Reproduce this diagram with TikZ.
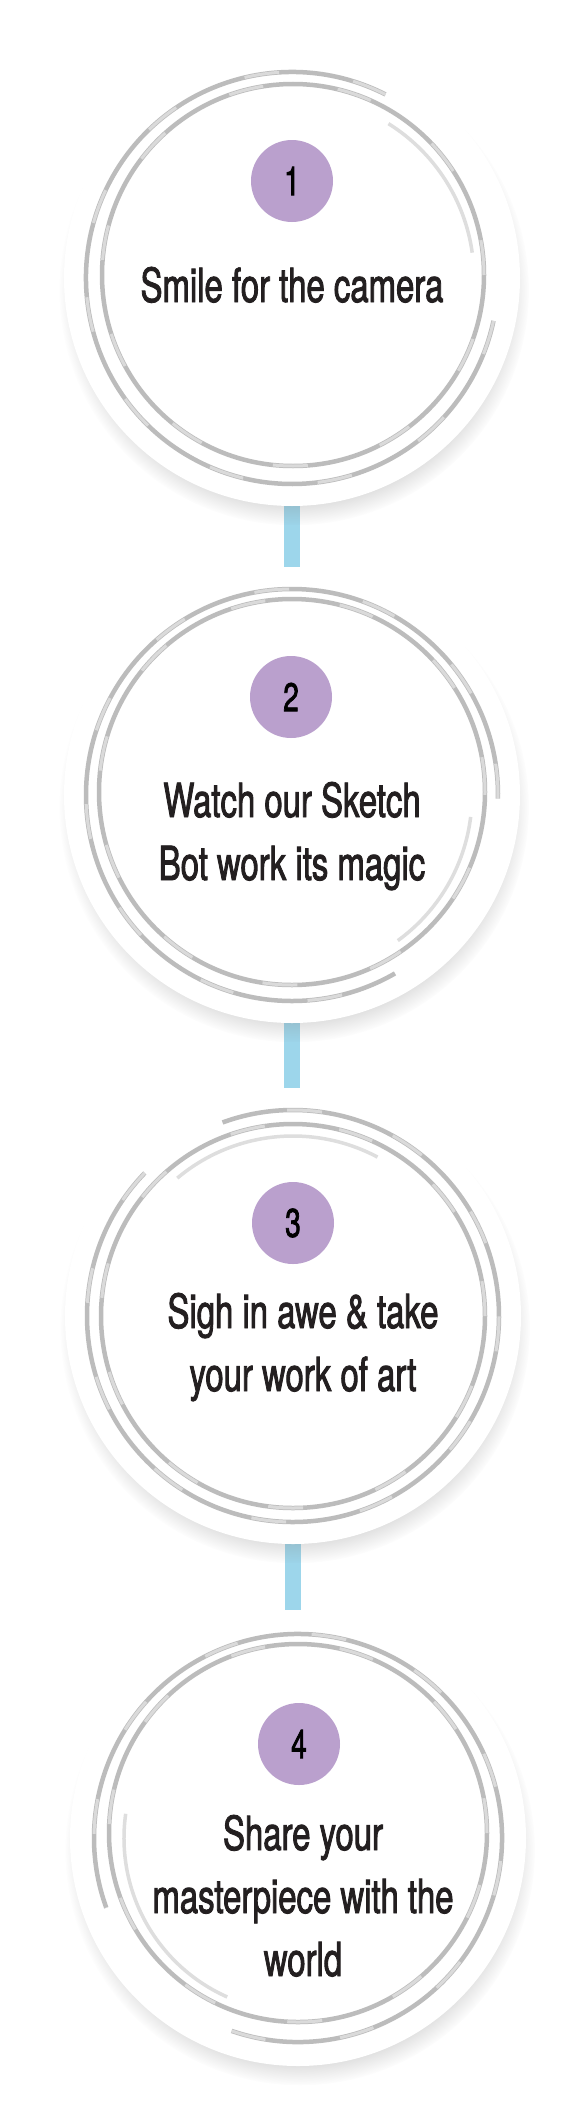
\documentclass[tikz,border=0pt]{standalone}
\usepackage{fontspec}
\setmainfont{TeX Gyre Heros}[FakeStretch=0.70, FakeBold=1.8]
\usetikzlibrary{shadows, backgrounds, positioning}
\definecolor{steppurple}{RGB}{186,160,205}
\definecolor{barblue}{RGB}{157,214,235}
\definecolor{ringgray}{RGB}{188,188,188}
\definecolor{ringlight}{RGB}{222,222,222}
\definecolor{textdark}{RGB}{35,31,32}
\tikzstyle{disc} = [circle, fill=white, minimum size=456pt, inner sep=0pt, circular drop shadow={shadow xshift=2pt, shadow yshift=-12pt, shadow scale=1.03, opacity=0.4}]
\tikzstyle{num} = [circle, fill=steppurple, minimum size=82pt, inner sep=0pt, text=black, font=\fontsize{40}{40}\selectfont]
\tikzstyle{steptext} = [align=center, anchor=base, inner sep=0pt, text=textdark, font=\fontsize{47}{63}\selectfont]
\tikzstyle{bar} = [draw=barblue, line width=16pt]
\tikzstyle{ring} = [draw=ringgray, line width=4.5pt, postaction={draw=white, opacity=0.45, line width=3pt, dash pattern=on 35pt off 75pt}]
\tikzstyle{ringlt} = [draw=ringlight, line width=3.5pt]

\begin{document}
\begin{tikzpicture}[node distance=517pt]
    \begin{pgfonlayer}{background}
        \fill[white] (0,0) rectangle (585pt,-2101pt);
    \end{pgfonlayer}
    \useasboundingbox (0,0) rectangle (585pt,-2101pt);

    % Place nodes
    \node [disc] (c1) at (292pt,-278pt) {};
    \node [disc, below of=c1] (c2) {};
    \node [disc, below of=c2, node distance=521pt, xshift=1pt] (c3) {};
    \node [disc, below of=c3, node distance=522pt, xshift=5pt] (c4) {};

    % Rings
    \draw [ring] ([shift={(1pt,3pt)}]c1.center) circle [radius=191pt];
    \draw [ring] ([shift={(63:206pt)}]c1.center) arc [start angle=63, end angle=348, radius=206pt];
    \draw [ringlt] ([shift={(58:182pt)}]c1.center) arc [start angle=58, end angle=8, radius=182pt];

    \draw [ring] ([shift={(0pt,3pt)}]c2.center) circle [radius=193pt];
    \draw [ring] ([shift={(-1:206pt)}]c2.center) arc [start angle=-1, end angle=300, radius=206pt];
    \draw [ringlt] ([shift={(-7:180pt)}]c2.center) arc [start angle=-7, end angle=-54, radius=180pt];

    \draw [ring] (c3.center) circle [radius=192pt];
    \draw [ring] ([shift={(136:206pt)}]c3.center) arc [start angle=136, end angle=470, radius=206pt];
    \draw [ringlt] ([shift={(130:180pt)}]c3.center) arc [start angle=130, end angle=62, radius=180pt];

    \draw [ring] ([shift={(0pt,5pt)}]c4.center) circle [radius=189pt];
    \draw [ring] ([shift={(251:204pt)}]c4.center) arc [start angle=251, end angle=560, radius=204pt];
    \draw [ringlt] ([shift={(246:174pt)}]c4.center) arc [start angle=246, end angle=172, radius=174pt];

    % Numbers
    \node [num, above of=c1, node distance=97pt] (n1) {1};
    \node [num, above of=c2, node distance=98pt, xshift=-1pt] (n2) {2};
    \node [num, above of=c3, node distance=93pt] (n3) {3};
    \node [num, above of=c4, node distance=94pt, xshift=1pt] (n4) {4};

    % Texts (base = last line)
    \node [steptext] (t1) at ([yshift=-24pt]c1.center) {Smile for the camera};
    \node [steptext] (t2) at ([yshift=-85pt]c2.center) {Watch our Sketch\\Bot work its magic};
    \node [steptext] (t3) at ([shift={(10pt,-75pt)}]c3.center) {Sigh in awe \& take\\your work of art};
    \node [steptext] (t4) at ([shift={(5pt,-138pt)}]c4.center) {Share your\\masterpiece with the\\world};

    % Draw edges
    \begin{pgfonlayer}{background}
        \path [bar] (c1.south) -- (c1.south |- c2.north);
        \path [bar] (c2.south) -- (c2.south |- c3.north);
        \path [bar] (c3.south) -- (c3.south |- c4.north);
    \end{pgfonlayer}
\end{tikzpicture}
\end{document}
